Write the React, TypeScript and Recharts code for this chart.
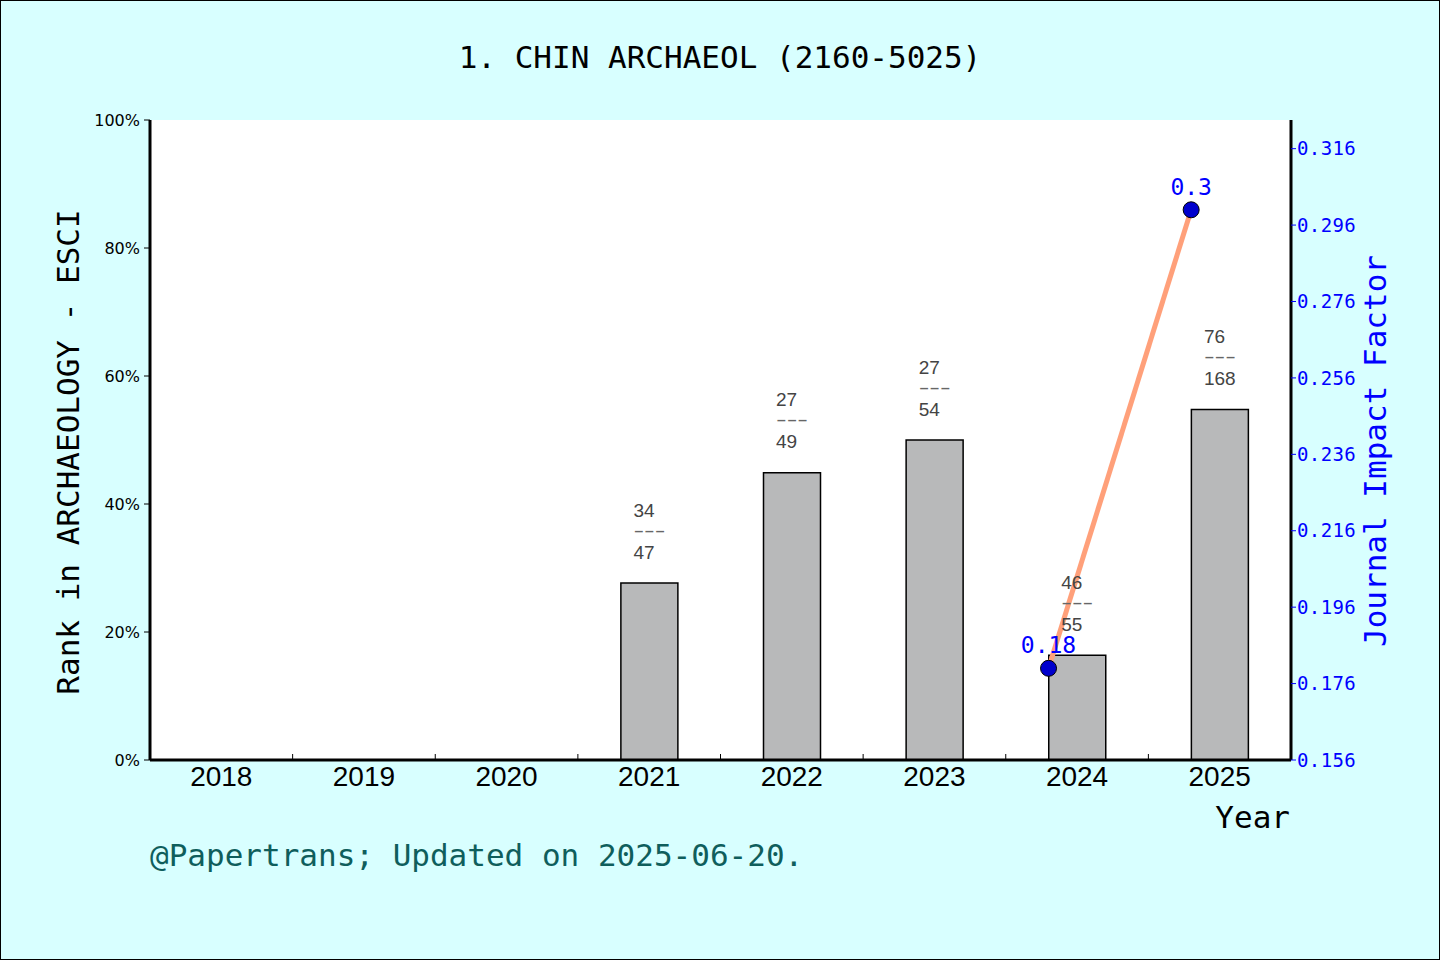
import React from "react";
import {
  ComposedChart,
  Bar,
  Line,
  XAxis,
  YAxis,
  CartesianGrid,
  LabelList,
} from "recharts";

const years = ["2018", "2019", "2020", "2021", "2022", "2023", "2024", "2025"];
const ranks = [null, null, null, 34, 27, 27, 46, 76];
const totals = [null, null, null, 47, 49, 54, 55, 168];
const impactFactors = [null, null, null, null, null, null, 0.18, 0.3];

const rankTicks = [0, 0.2, 0.4, 0.6, 0.8, 1];
const ifTicks = [0.156, 0.176, 0.196, 0.216, 0.236, 0.256, 0.276, 0.296, 0.316];

const MONO = "'DejaVu Sans Mono', monospace";
const SANS = "'Liberation Sans', Arial, sans-serif";
const BLUE = "#0000ff";

// bars sit on the category axis, IF points sit at each bar's left edge
const BAR_SHIFT = 0.2;

const barData = years.map((year, i) => ({
  year,
  share:
    ranks[i] != null && totals[i] != null
      ? 1 - (ranks[i] as number) / (totals[i] as number)
      : null,
}));

const lineData = years
  .map((year, i) => ({ year, pos: i - BAR_SHIFT, jif: impactFactors[i] }))
  .filter((d) => d.jif != null);

function YearTick(props: any) {
  const { x, y, payload, index, width } = props;
  const half = payload.offset ?? width / years.length / 2;
  const boundary = payload.coordinate + half;
  return (
    <g>
      <text
        x={x}
        y={y + 26}
        textAnchor="middle"
        fontFamily={SANS}
        fontSize={28}
        fill="#000"
      >
        {payload.value}
      </text>
      {index < years.length - 1 && (
        <line
          x1={boundary}
          x2={boundary}
          y1={y}
          y2={y - 6}
          stroke="#000"
          strokeWidth={1}
        />
      )}
    </g>
  );
}

function RankLabel(props: any) {
  const { x, y, width, value } = props;
  const i = years.indexOf(String(value));
  if (i < 0 || ranks[i] == null) return null;
  const left = Number(x) + Number(width) / 2 - 16;
  const top = Number(y);
  return (
    <g>
      <text x={left} y={top - 73} dy="0.35em" fontFamily={SANS} fontSize={19} fill="#444">
        {ranks[i]}
      </text>
      <text
        x={left}
        y={top - 53}
        dy="0.35em"
        fontFamily={SANS}
        fontSize={19}
        fill="#666"
        textLength={32}
        lengthAdjust="spacingAndGlyphs"
      >
        ---
      </text>
      <text x={left} y={top - 31} dy="0.35em" fontFamily={SANS} fontSize={19} fill="#444">
        {totals[i]}
      </text>
    </g>
  );
}

export default function App() {
  return (
    <div
      style={{
        position: "relative",
        width: 1440,
        height: 960,
        background: "#d8ffff",
        border: "1px solid #000",
        boxSizing: "border-box",
      }}
    >
      <style>{`body{margin:0}`}</style>
      <div style={{ position: "absolute", left: -1, top: -1 }}>
        <ComposedChart
          width={1440}
          height={960}
          data={barData}
          margin={{ top: 120, right: 0, bottom: 160, left: 0 }}
        >
          <CartesianGrid
            xAxisId="cat"
            yAxisId="rank"
            horizontal={false}
            vertical={false}
            fill="#ffffff"
            stroke="none"
          />
          <XAxis
            xAxisId="cat"
            dataKey="year"
            type="category"
            height={40}
            tickLine={false}
            tickSize={0}
            tickMargin={0}
            axisLine={{ stroke: "#000", strokeWidth: 3 }}
            tick={<YearTick />}
            interval={0}
          />
          <XAxis
            xAxisId="top"
            dataKey="year"
            orientation="top"
            height={0}
            tick={false}
            tickLine={false}
            axisLine={{ stroke: "#000", strokeWidth: 3 }}
          />
          <XAxis
            xAxisId="num"
            dataKey="pos"
            type="number"
            domain={[-0.5, 7.5]}
            allowDataOverflow
            hide
          />
          <YAxis
            yAxisId="rank"
            width={150}
            domain={[0, 1]}
            ticks={rankTicks}
            tickFormatter={(v: number) => `${Math.round(v * 100)}%`}
            tickSize={6}
            tickMargin={4}
            tickLine={{ stroke: "#000" }}
            axisLine={{ stroke: "#000", strokeWidth: 3 }}
            tick={{ fill: "#000", fontSize: 16, fontFamily: "'DejaVu Sans', sans-serif" }}
          />
          <YAxis
            yAxisId="if"
            orientation="right"
            width={149}
            domain={[0.156, 0.3235]}
            allowDataOverflow
            ticks={ifTicks}
            tickFormatter={(v: number) => v.toFixed(3)}
            tickSize={5}
            tickMargin={1}
            tickLine={{ stroke: BLUE }}
            axisLine={{ stroke: "#000", strokeWidth: 3 }}
            tick={{ fill: BLUE, fontSize: 19, fontFamily: MONO, letterSpacing: 0.4 }}
          />
          <Line
            data={lineData}
            xAxisId="num"
            yAxisId="if"
            dataKey="jif"
            stroke="none"
            dot={{ r: 8, fill: "#0000cd", stroke: "#000", strokeWidth: 1 }}
            label={{
              position: "top",
              offset: 15,
              fill: BLUE,
              fontSize: 23,
              fontFamily: MONO,
            }}
            isAnimationActive={false}
          />
          <Line
            data={lineData}
            xAxisId="num"
            yAxisId="if"
            dataKey="jif"
            stroke="#ffa07a"
            strokeWidth={5}
            dot={false}
            isAnimationActive={false}
          />
          <Bar
            xAxisId="cat"
            yAxisId="rank"
            dataKey="share"
            barSize={57}
            fill="#9a9b9c"
            fillOpacity={0.7}
            stroke="#000"
            strokeWidth={1.5}
            isAnimationActive={false}
          >
            <LabelList dataKey="year" content={<RankLabel />} />
          </Bar>
        </ComposedChart>
      </div>
      <svg
        width={1440}
        height={960}
        style={{ position: "absolute", left: -1, top: -1, pointerEvents: "none" }}
      >
        <text x={720} y={68} textAnchor="middle" fontFamily={MONO} fontSize={31} fill="#000">
          1. CHIN ARCHAEOL (2160-5025)
        </text>
        <text
          x={79}
          y={452}
          textAnchor="middle"
          fontFamily={MONO}
          fontSize={31}
          fill="#000"
          transform="rotate(-90 79 452)"
        >
          Rank in ARCHAEOLOGY - ESCI
        </text>
        <text
          x={1386}
          y={451}
          textAnchor="middle"
          fontFamily={MONO}
          fontSize={31}
          fill={BLUE}
          transform="rotate(-90 1386 451)"
        >
          Journal Impact Factor
        </text>
        <text x={1290} y={828} textAnchor="end" fontFamily={MONO} fontSize={31} fill="#000">
          Year
        </text>
        <text x={150} y={866} fontFamily={MONO} fontSize={31} fill="#0f5e5c">
          @Papertrans; Updated on 2025-06-20.
        </text>
      </svg>
    </div>
  );
}
